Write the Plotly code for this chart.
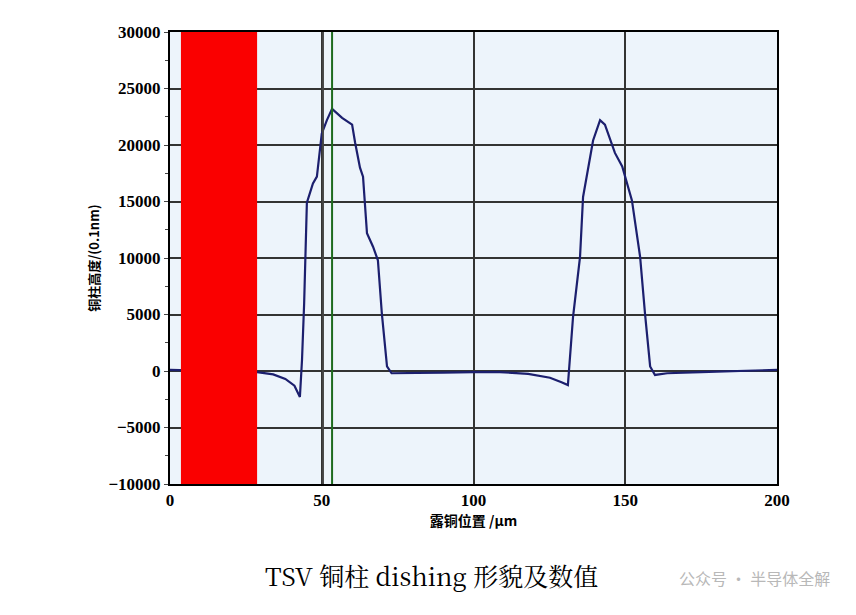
import plotly.graph_objects as go

# profile data (position in um, height in 0.1nm)
pos = [0, 10, 20, 28.7, 34, 38, 41, 42.8, 43.5, 44.2, 45.1, 47.1, 48.4, 50, 51.7, 53.4,
       56.7, 60, 61, 62.6, 63.6, 64.9, 66.9, 68.5, 69.8, 71.5, 73, 80, 90, 100, 108.7,
       118, 125.2, 129, 131.1, 132.8, 135.1, 136.1, 137.7, 139.4, 141.7, 143.3, 146.6,
       149, 152.2, 154.9, 156.5, 158.2, 159.8, 163.8, 175, 190, 200]
height = [100, 50, -20, -100, -300, -700, -1300, -2300, 1000, 6000, 14900, 16600, 17200,
          21000, 22200, 23200, 22400, 21800, 20200, 18000, 17200, 12200, 11000, 9800, 5100,
          400, -200, -200, -150, -100, -100, -250, -600, -1000, -1250, 4800, 10100, 15400,
          17800, 20400, 22200, 21800, 19300, 18100, 15100, 10100, 5100, 400, -350, -200,
          -100, 0, 100]

red_band = [3.6, 28.7]
cursor_lines = [50.4, 53.4]
cursor_colors = ['#444444', '#1e6b1e']

fig = go.Figure()
fig.add_trace(go.Scatter(x=pos, y=height, mode='lines',
                         line=dict(color='#1c1f6e', width=2.2)))

fig.add_shape(type='rect', xref='x', yref='paper', x0=red_band[0], x1=red_band[1],
              y0=0, y1=1, fillcolor='#fa0000', line_width=0, layer='above')
for xv, c in zip(cursor_lines, cursor_colors):
    fig.add_shape(type='line', xref='x', yref='paper', x0=xv, x1=xv, y0=0, y1=1,
                  line=dict(color=c, width=2))

tick_font = dict(family='Liberation Serif', size=17, color='black', weight='bold')
fig.update_xaxes(range=[0, 200], tickvals=[0, 50, 100, 150, 200], showgrid=True,
                 gridcolor='#333333', gridwidth=1.5, zeroline=False, showline=True,
                 linecolor='black', linewidth=2, mirror=True, tickfont=tick_font,
                 automargin=False,
                 title=dict(text='露铜位置 /μm', font=dict(family='Noto Sans CJK SC', size=14,
                            color='black', weight='bold'), standoff=4))
fig.update_yaxes(range=[-10000, 30000], dtick=5000, tickformat='d', showgrid=True,
                 gridcolor='#333333', automargin=False,
                 gridwidth=1.5, zeroline=False, showline=True, linecolor='black',
                 linewidth=2, mirror=True, ticks='outside', ticklen=4, tickfont=tick_font,
                 minor=dict(dtick=2500, ticks='outside', ticklen=3),
                 title=dict(text='铜柱高度/(0.1nm)', font=dict(family='Noto Sans CJK SC', size=13,
                            color='black', weight='bold'), standoff=6))

fig.add_annotation(text='TSV 铜柱 dishing 形貌及数值', xref='paper', yref='paper',
                   x=0.43, y=-0.245, showarrow=False, xanchor='center',
                   font=dict(family='Noto Serif CJK SC, Liberation Serif, Noto Sans CJK SC',
                             size=25, color='black'))
fig.add_annotation(text='公众号 · 半导体全解', xref='paper', yref='paper',
                   x=1.09, y=-0.24, showarrow=False, xanchor='right',
                   font=dict(family='Noto Sans CJK SC', size=16, color='#b8b8b8'))

fig.update_layout(width=856, height=615, showlegend=False,
                  margin=dict(l=162, r=87, t=24, b=139),
                  plot_bgcolor='#edf4fb', paper_bgcolor='white')

fig.write_html('out.html')
